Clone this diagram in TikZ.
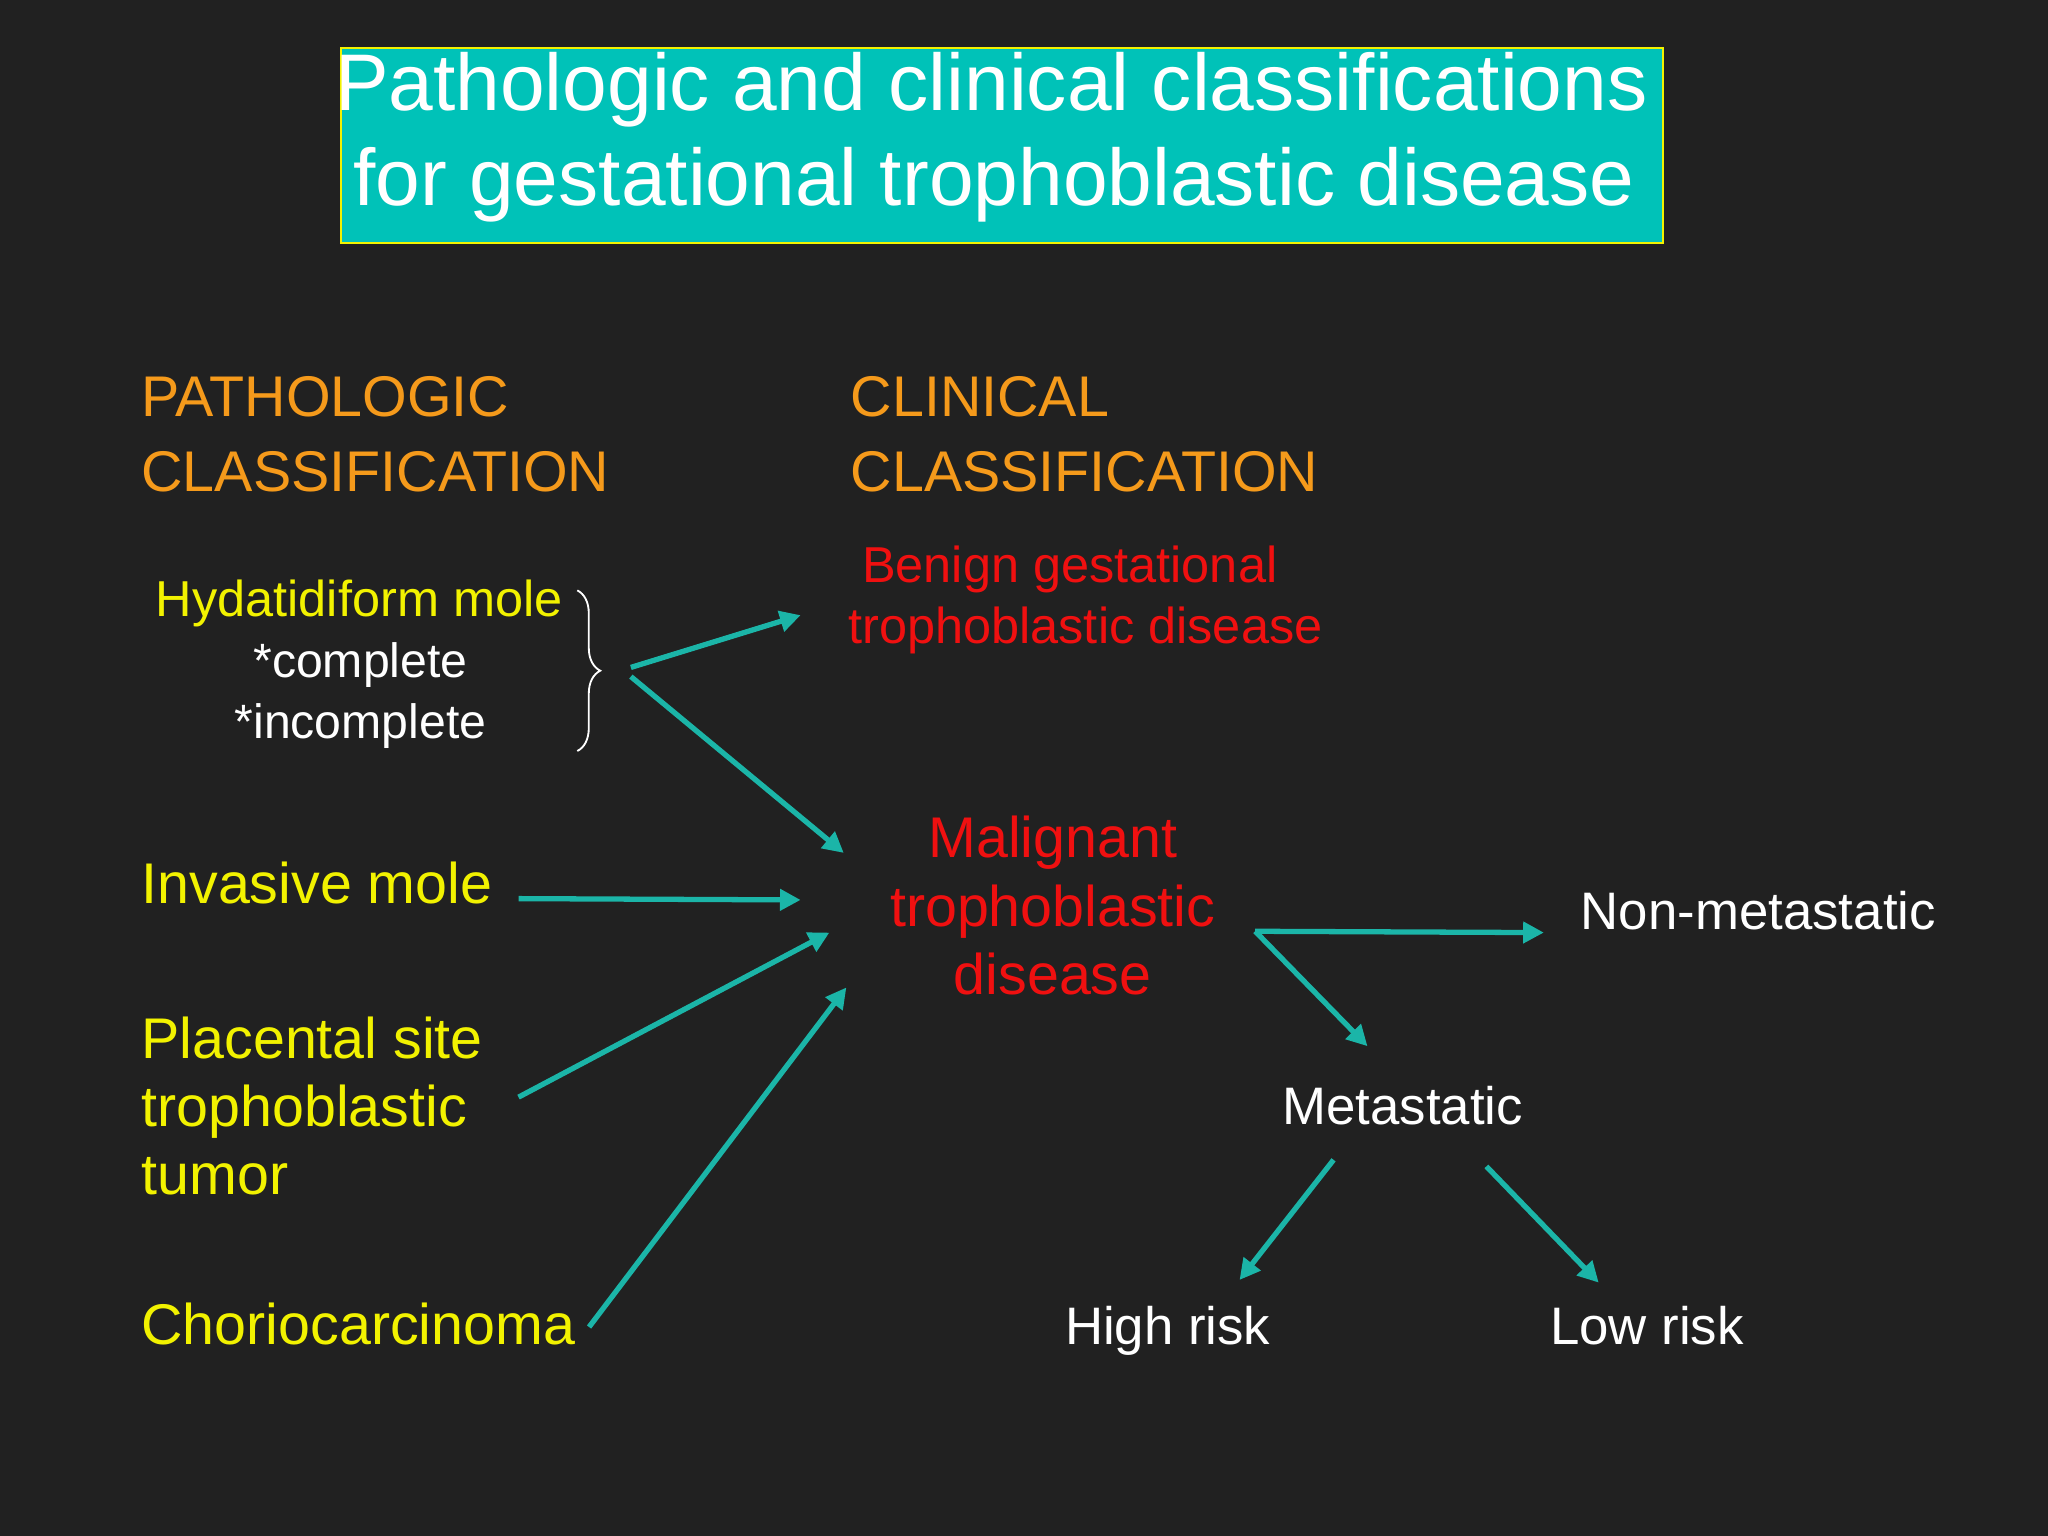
\documentclass[tikz,border=0pt]{standalone}
\usepackage{fontspec}
\setmainfont{Liberation Sans}
\usetikzlibrary{arrows.meta,decorations.pathreplacing}
\definecolor{bg}{HTML}{212121}
\definecolor{teal1}{HTML}{00C2B8}
\definecolor{arr}{HTML}{1BB5A8}
\definecolor{org}{HTML}{F59A1B}
\definecolor{yel}{HTML}{F2F200}
\definecolor{red1}{HTML}{F01010}
\tikzset{
 conn/.style={draw=arr,line width=2.3pt,-{Triangle[length=9pt,width=9pt]}},
 ttl/.style={text=white,font=\fontsize{35}{41}\selectfont,anchor=mid},
 hd/.style={text=org,font=\fontsize{25}{30}\selectfont,anchor=mid west,inner sep=0pt},
 yl/.style={text=yel,font=\fontsize{25}{30}\selectfont,anchor=mid west,inner sep=0pt},
 yls/.style={text=yel,font=\fontsize{22}{26}\selectfont,anchor=mid,inner sep=0pt},
 wt/.style={text=white,font=\fontsize{23}{28}\selectfont,anchor=mid,inner sep=0pt},
 wts/.style={text=white,font=\fontsize{21}{26}\selectfont,anchor=mid,inner sep=0pt},
 rd/.style={text=red1,font=\fontsize{22}{26}\selectfont,anchor=mid,inner sep=0pt},
 rdb/.style={text=red1,font=\fontsize{25}{30}\selectfont,anchor=mid,inner sep=0pt},
}
\begin{document}
\begin{tikzpicture}[x=0.02cm,y=-0.02cm]
\fill[bg] (0,0) rectangle (1568,1176);
\useasboundingbox (0,0) rectangle (1568,1176);
\draw[fill=teal1,draw=yel,line width=1pt] (261,37) rectangle (1273,186);
\node[ttl] (t1) at (759,80) {Pathologic and clinical classifications};
\node[ttl] (t2) at (761,153) {for gestational trophoblastic disease};
\node[hd] (h1) at (108,314) {PATHOLOGIC};
\node[hd] (h2) at (108,372) {CLASSIFICATION};
\node[hd] (h3) at (651,314) {CLINICAL};
\node[hd] (h4) at (651,372) {CLASSIFICATION};
\node[yls] (hm) at (275,467) {Hydatidiform mole};
\node[wts] (c1) at (276,514) {*complete};
\node[wts] (c2) at (276,561) {*incomplete};
\draw[white,line width=0.8pt,decorate,decoration={brace,amplitude=10pt}] (442,452) -- (442,575);
\node[rd] (b1) at (819,441) {Benign gestational};
\node[rd] (b2) at (831,488) {trophoblastic disease};
\node[rdb] (m1) at (806,652) {Malignant};
\node[rdb] (m2) at (806,705) {trophoblastic};
\node[rdb] (m3) at (806,757) {disease};
\node[yl] (im) at (108,687) {Invasive mole};
\node[yl] (p1) at (108,806) {Placental site};
\node[yl] (p2) at (108,858) {trophoblastic};
\node[yl] (p3) at (108,910) {tumor};
\node[yl] (cc) at (108,1025) {Choriocarcinoma};
\node[wt,anchor=mid west] (nm) at (1210,707) {Non-metastatic};
\node[wt] (me) at (1074,856) {Metastatic};
\node[wt] (hr) at (894,1025) {High risk};
\node[wt] (lr) at (1261,1025) {Low risk};
\coordinate (a1) at (483,511); \coordinate (a1e) at (613,471);
\coordinate (a2) at (483,518); \coordinate (a2e) at (646,653);
\coordinate (a3) at (397,688); \coordinate (a3e) at (613,689);
\coordinate (a4) at (397,840); \coordinate (a4e) at (635,714);
\coordinate (a5) at (451,1016); \coordinate (a5e) at (648,756);
\coordinate (a6) at (961,713); \coordinate (a6e) at (1182,714);
\coordinate (a7e) at (1047,801);
\coordinate (a8) at (1021,888); \coordinate (a8e) at (949,980);
\coordinate (a9) at (1138,893); \coordinate (a9e) at (1224,982);
\draw[conn] (a1) -- (a1e);
\draw[conn] (a2) -- (a2e);
\draw[conn] (a3) -- (a3e);
\draw[conn] (a4) -- (a4e);
\draw[conn] (a5) -- (a5e);
\draw[conn] (a6) -- (a6e);
\draw[conn] (a6) -- (a7e);
\draw[conn] (a8) -- (a8e);
\draw[conn] (a9) -- (a9e);
\end{tikzpicture}
\end{document}
